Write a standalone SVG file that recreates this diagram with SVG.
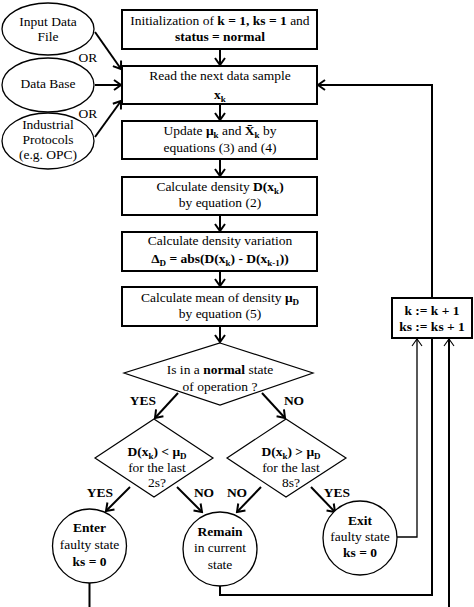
<svg xmlns="http://www.w3.org/2000/svg" width="474" height="607" viewBox="0 0 474 607" font-family="'Liberation Serif', 'Times New Roman', 'DejaVu Serif', serif">
<style>
text{font-family:"Liberation Serif","Times New Roman","DejaVu Serif",serif;font-size:13.5px;fill:#000;text-anchor:middle}
.b{font-weight:bold}
.s{font-size:9px;font-weight:bold}
.lbl{font-weight:bold;font-size:13.5px}
.box{fill:#fff;stroke:#000;stroke-width:2}
.dia{fill:#fff;stroke:#000;stroke-width:1.2}
.circ{fill:#fff;stroke:#000;stroke-width:1.3}
.ell{fill:#fff;stroke:#000;stroke-width:1.3}
.ln{fill:none;stroke:#000;stroke-width:2}
.tn{fill:none;stroke:#000;stroke-width:1.3}
</style>
<defs>
<marker id="ah" viewBox="0 0 10 12" refX="8" refY="6" markerWidth="10" markerHeight="12" markerUnits="userSpaceOnUse" orient="auto">
<path d="M1,1 L8,6 L1,11" fill="none" stroke="#000" stroke-width="2"/>
</marker>
<marker id="at" viewBox="0 0 10 12" refX="8" refY="6" markerWidth="10" markerHeight="12" markerUnits="userSpaceOnUse" orient="auto">
<path d="M1,1 L8,6 L1,11" fill="none" stroke="#000" stroke-width="1.1"/>
</marker>
</defs>
<rect width="474" height="607" fill="#fff"/>

<g id="connectors">
<line class="ln" x1="220" y1="49" x2="220" y2="65" marker-end="url(#ah)"/>
<line class="ln" x1="220" y1="104" x2="220" y2="120" marker-end="url(#ah)"/>
<line class="ln" x1="220" y1="159" x2="220" y2="176" marker-end="url(#ah)"/>
<line class="ln" x1="220" y1="215" x2="220" y2="231" marker-end="url(#ah)"/>
<line class="ln" x1="220" y1="271" x2="220" y2="286" marker-end="url(#ah)"/>
<line class="ln" x1="220" y1="326" x2="220" y2="342" marker-end="url(#ah)"/>
<line class="ln" x1="95" y1="32" x2="121" y2="69" marker-end="url(#ah)"/>
<line class="ln" x1="95" y1="85" x2="121" y2="85" marker-end="url(#ah)"/>
<line class="ln" x1="95" y1="137" x2="121" y2="101" marker-end="url(#ah)"/>
<line class="ln" x1="178" y1="393" x2="155" y2="418" marker-end="url(#ah)"/>
<line class="ln" x1="262" y1="393" x2="285" y2="418" marker-end="url(#ah)"/>
<line class="ln" x1="130" y1="487" x2="106" y2="511" marker-end="url(#ah)"/>
<line class="ln" x1="177" y1="487" x2="202" y2="512" marker-end="url(#ah)"/>
<line class="ln" x1="261" y1="487" x2="237" y2="512" marker-end="url(#ah)"/>
<line class="ln" x1="311" y1="487" x2="335" y2="512" marker-end="url(#ah)"/>
<polyline class="ln" points="432,298 432,85 318,85" marker-end="url(#ah)"/>
<polyline class="ln" points="220,585 220,595 432,595 432,338"/>
<polyline class="tn" points="397,537 417,537 417,339" marker-end="url(#at)"/>
<polyline class="ln" points="89.5,583 89.5,615 449,615 449,339" marker-end="url(#at)"/>
</g>

<g id="src1">
<ellipse class="ell" cx="48" cy="29" rx="46" ry="26"/>
<text x="48" y="26">Input Data</text>
<text x="48" y="41">File</text>
</g>
<g id="src2">
<ellipse class="ell" cx="48" cy="85" rx="46" ry="27"/>
<text x="48" y="88">Data Base</text>
</g>
<g id="src3">
<ellipse class="ell" cx="48" cy="141" rx="46" ry="28"/>
<text x="48" y="129">Industrial</text>
<text x="48" y="144">Protocols</text>
<text x="48" y="159">(e.g. OPC)</text>
</g>
<text x="88" y="62">OR</text>
<text x="88" y="118">OR</text>

<g id="init">
<rect class="box" x="122" y="10" width="195" height="39"/>
<text x="220" y="25">Initialization of <tspan class="b">k = 1, ks = 1</tspan> and</text>
<text x="220" y="41" class="b">status = normal</text>
</g>
<g id="read">
<rect class="box" x="122" y="66" width="195" height="38"/>
<text x="220" y="80">Read the next data sample</text>
<text x="220" y="99" class="b">x<tspan class="s" dy="3">k</tspan></text>
</g>
<g id="update">
<rect class="box" x="122" y="121" width="195" height="38"/>
<text x="220" y="135">Update <tspan class="b">μ</tspan><tspan class="s" dy="3">k</tspan><tspan dy="-3"> and </tspan><tspan class="b">X̄</tspan><tspan class="s" dy="3">k</tspan><tspan dy="-3"> by</tspan></text>
<text x="220" y="152">equations (3) and (4)</text>
</g>
<g id="density">
<rect class="box" x="122" y="177" width="195" height="38"/>
<text x="220" y="191">Calculate density <tspan class="b">D(x</tspan><tspan class="s" dy="3">k</tspan><tspan class="b" dy="-3">)</tspan></text>
<text x="220" y="207">by equation (2)</text>
</g>
<g id="variation">
<rect class="box" x="122" y="232" width="195" height="39"/>
<text x="220" y="245">Calculate density variation</text>
<text x="220" y="263" class="b">Δ<tspan class="s" dy="3">D</tspan><tspan dy="-3"> = abs(D(x</tspan><tspan class="s" dy="3">k</tspan><tspan dy="-3">) - D(x</tspan><tspan class="s" dy="3">k-1</tspan><tspan dy="-3">))</tspan></text>
</g>
<g id="mean">
<rect class="box" x="122" y="287" width="195" height="39"/>
<text x="220" y="302">Calculate mean of density <tspan class="b">μ</tspan><tspan class="s" dy="3">D</tspan></text>
<text x="220" y="318">by equation (5)</text>
</g>

<g id="dec1">
<polygon class="dia" points="220,343 313,373 220,405 124,373"/>
<text x="220" y="374">Is in a <tspan class="b">normal</tspan> state</text>
<text x="220" y="391">of operation ?</text>
</g>
<text class="lbl" x="143" y="405">YES</text>
<text class="lbl" x="294" y="405">NO</text>

<g id="dec2">
<polygon class="dia" points="154,419 213,458 154,497 95,458"/>
<text x="157" y="456" class="b">D(x<tspan class="s" dy="3">k</tspan><tspan dy="-3">) &lt; μ</tspan><tspan class="s" dy="3">D</tspan></text>
<text x="157" y="472">for the last</text>
<text x="157" y="487">2s?</text>
</g>
<g id="dec3">
<polygon class="dia" points="286,419 346,458 286,497 227,458"/>
<text x="291" y="456" class="b">D(x<tspan class="s" dy="3">k</tspan><tspan dy="-3">) &gt; μ</tspan><tspan class="s" dy="3">D</tspan></text>
<text x="291" y="472">for the last</text>
<text x="291" y="487">8s?</text>
</g>
<text class="lbl" x="100" y="497">YES</text>
<text class="lbl" x="204" y="497">NO</text>
<text class="lbl" x="237" y="497">NO</text>
<text class="lbl" x="337" y="497">YES</text>

<g id="enter">
<circle class="circ" cx="89.5" cy="546" r="37"/>
<text x="89.5" y="532" class="b">Enter</text>
<text x="89.5" y="549">faulty state</text>
<text x="89.5" y="566" class="b">ks = 0</text>
</g>
<g id="remain">
<circle class="circ" cx="220" cy="549" r="37"/>
<text x="220" y="536" class="b">Remain</text>
<text x="220" y="552">in current</text>
<text x="220" y="569">state</text>
</g>
<g id="exit">
<circle class="circ" cx="360" cy="538" r="37"/>
<text x="360" y="525" class="b">Exit</text>
<text x="360" y="541">faulty state</text>
<text x="360" y="557" class="b">ks = 0</text>
</g>
<g id="incr">
<rect class="box" x="392" y="298" width="80" height="40"/>
<text x="432" y="315" class="b">k := k + 1</text>
<text x="432" y="331" class="b">ks := ks + 1</text>
</g>
</svg>
